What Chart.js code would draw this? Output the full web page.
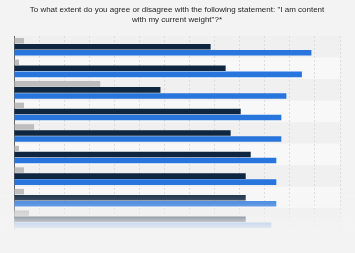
<!DOCTYPE html>
<html>
<head>
<meta charset="utf-8">
<script src="https://cdn.jsdelivr.net/npm/chart.js@4/dist/chart.umd.min.js"></script>
<style>
    html, body { margin: 0; padding: 0; background: #f3f3f3; }
    #wrap { width: 355px; height: 253px; position: relative; }
</style>
</head>
<body>
<div id="wrap"><canvas id="barChart" width="355" height="253"></canvas></div>
<script>
// categories (their labels are not shown in the picture)
const categories = ['Group 1', 'Group 2', 'Group 3', 'Group 4', 'Group 5', 'Group 6', 'Group 7', 'Group 8', 'Group 9'];
const seriesNames = ['Don\'t know', 'Disagree', 'Agree'];
// values in percent
const dontKnow = [2, 1, 17.2, 2, 4, 1, 2, 2, 3];
const disagree = [39.2, 42.2, 29.2, 45.2, 43.2, 47.2, 46.2, 46.2, 46.2];
const agree = [59.3, 57.4, 54.3, 53.3, 53.3, 52.3, 52.3, 52.3, 51.3];
const xTicks = { min: 0, max: 65, step: 5 };

const colors = ['#bdbdbd', '#0f2640', '#2876dd'];

// alternating row backgrounds, drawn before the grid
const rowBands = {
    id: 'rowBands',
    beforeDraw(c) {
        const { ctx, chartArea, scales } = c;
        const y = scales.y;
        const half = (y.getPixelForValue(1) - y.getPixelForValue(0)) / 2;
        ctx.save();
        categories.forEach((cat, i) => {
            const mid = y.getPixelForValue(i);
            ctx.fillStyle = i % 2 === 0 ? '#f0f0f0' : '#f8f8f8';
            ctx.fillRect(chartArea.left, mid - half, chartArea.right - chartArea.left, half * 2);
        });
        ctx.restore();
    }
};

// fade-out over the bottom rows
const bottomFade = {
    id: 'bottomFade',
    afterDraw(c) {
        const { ctx, width, height } = c;
        const top = 188, bottom = 233;
        const span = bottom - top;
        const stops = [[188, 0], [196, 0.1], [204, 0.25], [212, 0.42], [217, 0.6], [222, 0.78], [228, 0.9], [233, 1]];
        const g = ctx.createLinearGradient(0, top, 0, bottom);
        stops.forEach(s => g.addColorStop((s[0] - top) / span, `rgba(243,243,243,${s[1]})`));
        ctx.save();
        ctx.fillStyle = g;
        ctx.fillRect(0, top, width, bottom - top);
        ctx.fillStyle = '#f3f3f3';
        ctx.fillRect(0, bottom, width, height - bottom);
        ctx.restore();
    }
};

const ctx = document.getElementById('barChart').getContext('2d');
const chart = new Chart(ctx, {
    type: 'bar',
    data: {
        labels: categories,
        datasets: [
            { label: seriesNames[0], data: dontKnow, backgroundColor: colors[0] },
            { label: seriesNames[1], data: disagree, backgroundColor: colors[1] },
            { label: seriesNames[2], data: agree, backgroundColor: colors[2] }
        ]
    },
    options: {
        indexAxis: 'y',
        responsive: false,
        animation: false,
        devicePixelRatio: 1,
        categoryPercentage: 0.84,
        barPercentage: 0.92,
        layout: { padding: { left: 14, right: 15, top: 0, bottom: 23 } },
        plugins: {
            legend: { display: false },
            tooltip: { enabled: false },
            title: {
                display: true,
                text: ['To what extent do you agree or disagree with the following statement: "I am content', 'with my current weight"?*'],
                color: '#1e1e1e',
                font: { family: '"Liberation Sans", Arial, sans-serif', size: 8, weight: 'normal', lineHeight: 1.25 },
                padding: { top: 5, bottom: 11 }
            }
        },
        scales: {
            x: {
                min: xTicks.min,
                max: xTicks.max,
                ticks: { display: false, stepSize: xTicks.step },
                grid: { color: '#dcdcdc', drawTicks: false },
                border: { display: false, dash: [2, 2] }
            },
            y: {
                ticks: { display: false },
                grid: { display: false, drawTicks: false },
                border: { display: true, color: '#666666', width: 1 }
            }
        }
    },
    plugins: [rowBands, bottomFade]
});
</script>
</body>
</html>
